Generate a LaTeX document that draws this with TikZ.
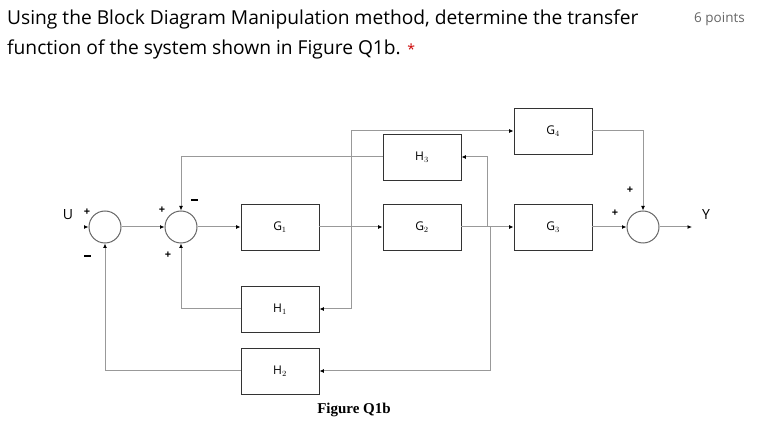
\documentclass[tikz,border=0pt]{standalone}
\usepackage{fontspec}
\setmainfont{Open Sans}
\newfontfamily\serifff{Liberation Serif}
\usetikzlibrary{arrows.meta}
\begin{document}
\begin{tikzpicture}[x=1pt,y=-1pt,
  ln/.style={draw=black!40,line width=1pt},
  ar/.style={ln,-{Latex[length=4.5pt,width=4pt,color=black]}},
  blk/.style={draw=black!80,line width=0.9pt,minimum width=78pt,minimum height=46pt,inner sep=0pt,font=\fontsize{12}{14}\selectfont},
  sm/.style={circle,draw=black!60,line width=1pt,minimum size=32pt,inner sep=0pt},
  sg/.style={font=\fontsize{11}{12}\selectfont\bfseries,inner sep=0pt},
  mn/.style={fill=black,minimum width=7pt,minimum height=1.2pt,inner sep=0pt}]
\useasboundingbox (0,0) rectangle (763,435);
\node[anchor=west,font=\fontsize{19.2}{21}\selectfont,inner sep=0pt] (t1) at (7,19) {Using the Block Diagram Manipulation method, determine the transfer};
\node[anchor=west,font=\fontsize{19.2}{21}\selectfont,inner sep=0pt] (t2) at (7,49) {function of the system shown in Figure Q1b. \textcolor{red!80!black}{\fontsize{14}{14}\selectfont *}};
\node[anchor=east,font=\fontsize{13.5}{15}\selectfont,text=black!60,inner sep=0pt] (pts) at (745,19) {6 points};
\node[sm] (s1) at (105,227) {};
\node[sm] (s2) at (181,227) {};
\node[sm] (s3) at (643,227) {};
\node[blk] (g1) at (280,227) {G$_1$};
\node[blk] (g2) at (422,227) {G$_2$};
\node[blk] (h3) at (422,157) {H$_3$};
\node[blk] (h1) at (280,309) {H$_1$};
\node[blk] (h2) at (280,371) {H$_2$};
\node[blk] (g4) at (553,131) {G$_4$};
\node[blk] (g3) at (553,227) {G$_3$};
\node[font=\fontsize{14}{16}\selectfont] (u) at (68,215) {U};
\node[font=\fontsize{14}{16}\selectfont] (y) at (706,215) {Y};
\coordinate (in) at (86,227);
\coordinate (out) at (692,227);
\coordinate (b1) at (351,227);
\coordinate (b2) at (487,227);
\coordinate (b3) at (490,227);
\draw[ar] (in) -- (s1);
\draw[ar] (s1) -- (s2);
\draw[ar] (s2) -- (g1);
\draw[ar] (g1) -- (g2);
\draw[ar] (g2) -- (g3);
\draw[ar] (g3) -- (s3);
\draw[ar] (s3) -- (out);
\draw[ar] (b1) |- (g4);
\draw[ar] (b1) |- (h1);
\draw[ar] (b2) |- (h3);
\draw[ar] (b3) |- (h2);
\draw[ar] (h3) -| (s2);
\draw[ar] (h1) -| (s2);
\draw[ar] (h2) -| (s1);
\draw[ar] (g4) -| (s3);
\node[sg] at (87,212) {+};
\node[mn] at (87,256) {};
\node[sg] at (162,210) {+};
\node[mn] at (194,200) {};
\node[sg] at (168,255) {+};
\node[sg] at (630,190) {+};
\node[sg] at (615,213) {+};
\node[font=\serifff\bfseries\fontsize{15}{17}\selectfont] (fig) at (354,410) {Figure Q1b};
\end{tikzpicture}
\end{document}
